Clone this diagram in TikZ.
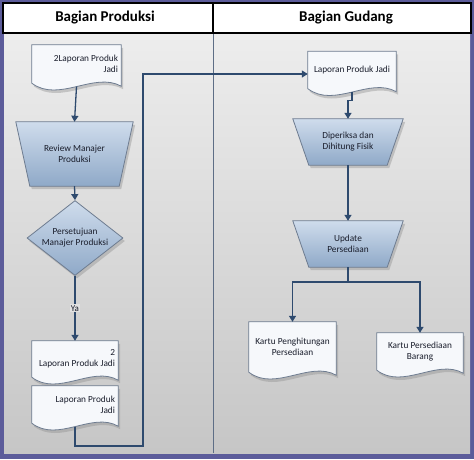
\documentclass[tikz,border=0pt]{standalone}
\usepackage{fontspec}
\setmainfont{Carlito}
\usetikzlibrary{calc,arrows.meta,shapes.geometric,shadows}
\pgfdeclarelayer{bg}
\pgfdeclarelayer{shp}
\pgfsetlayers{bg,shp,main}
\definecolor{framec}{HTML}{5C5C9A}
\definecolor{flowc}{HTML}{2E4A6E}
\definecolor{edgec}{HTML}{6E7C90}
\definecolor{docfill}{HTML}{F6F8FB}
\definecolor{trtop}{HTML}{CFDCEC}
\definecolor{trbot}{HTML}{8FA9C8}
\definecolor{lanec}{HTML}{5E6E86}
\definecolor{txt}{HTML}{1A1E2C}
\definecolor{bgtop}{HTML}{EDEDED}
\definecolor{bgbot}{HTML}{C6C6C6}
\definecolor{yafill}{HTML}{E2E2E2}
\tikzset{
  box/.style={draw=none, inner xsep=3pt, inner ysep=2pt, text=txt,
    font=\fontsize{9.3}{11}\selectfont},
  docn/.style={box, align=flush right},
  docc/.style={box, align=center},
  trap/.style={box, align=center},
  decision/.style={diamond, aspect=1.28, minimum width=96pt, minimum height=75pt,
    inner sep=0pt, draw=edgec, line width=0.8pt, top color=trtop, bottom color=trbot,
    text=txt, align=center, font=\fontsize{9.3}{11}\selectfont,
    drop shadow={shadow xshift=2pt, shadow yshift=-3pt, opacity=.35}},
  docp/.style={insert path={(#1.north west) -- (#1.north east) -- ($(#1.south east)+(0,3)$)
    .. controls ($(#1.south west)!0.7!(#1.south east)+(0,-12)$) and ($(#1.south west)!0.3!(#1.south east)+(0,20)$)
    .. (#1.south west) -- cycle}},
  trapp/.style 2 args={insert path={(#1.north west) -- (#1.north east) -- ($(#1.south east)+(-#2,0)$)
    -- ($(#1.south west)+(#2,0)$) -- cycle}},
  shadowfill/.style={fill=black!45, opacity=.4, transform canvas={shift={(2pt,-3pt)}}},
  docdraw/.style={draw=edgec, fill=docfill, line width=0.8pt},
  trapdraw/.style={draw=edgec, line width=0.8pt, top color=trtop, bottom color=trbot},
  conn/.style={draw=flowc, line width=1.3pt},
  flow/.style={conn, -{Triangle[length=6pt,width=7pt]}},
  head/.style={font=\fontsize{15}{18}\selectfont\bfseries, text=black},
  ya/.style={fill=yafill, inner sep=1pt, text=txt, font=\fontsize{9}{10}\selectfont}
}
\newcommand\docshape[1]{%
  \begin{pgfonlayer}{shp}
    \path[shadowfill, docp=#1];
    \path[docdraw, docp=#1];
  \end{pgfonlayer}}
\newcommand\trapshape[2]{%
  \begin{pgfonlayer}{shp}
    \path[shadowfill, trapp={#1}{#2}];
    \path[trapdraw, trapp={#1}{#2}];
  \end{pgfonlayer}}
\begin{document}
\begin{tikzpicture}[x=1pt,y=-1pt]
\useasboundingbox (0,0) rectangle (474,459);
\begin{pgfonlayer}{bg}
  \fill[framec] (0,0) rectangle (474,459);
  \shade[top color=bgtop, bottom color=bgbot] (4,34) rectangle (470,453);
  \draw[black, line width=2pt, fill=white] (3,3) rectangle (471,33);
  \draw[black, line width=2pt] (213,3) -- (213,33);
  \draw[lanec, line width=1pt] (213,34) -- (213,453);
\end{pgfonlayer}

\node[head] (hp) at (105,18) {Bagian Produksi};
\node[head] (hg) at (346,18) {Bagian Gudang};

% left lane
\node[docn, minimum width=89pt, minimum height=38pt, text width=83pt] (d1) at (76.5,64) {2Laporan Produk\\Jadi};
\docshape{d1}
\node[trap, minimum width=117pt, minimum height=64pt] (r) at (74.5,154) {Review Manajer\\Produksi};
\trapshape{r}{14}
\node[decision] (p) at (75,238) {Persetujuan\\Manajer Produksi};
\node[docn, minimum width=86pt, minimum height=36pt, text width=80pt] (d2) at (75,359) {2\\Laporan Produk Jadi};
\docshape{d2}
\node[docn, minimum width=86pt, minimum height=37pt, text width=80pt] (d3) at (75,404.5) {Laporan Produk\\Jadi};
\docshape{d3}

% right lane
\node[docc, minimum width=88pt, minimum height=37pt] (d4) at (352,70) {Laporan Produk Jadi};
\docshape{d4}
\node[trap, minimum width=110pt, minimum height=46pt] (t2) at (348,142) {Diperiksa dan\\Dihitung Fisik};
\trapshape{t2}{16}
\node[trap, minimum width=110pt, minimum height=46pt] (t3) at (348,244) {Update\\Persediaan};
\trapshape{t3}{16}
\node[docc, minimum width=87pt, minimum height=50pt] (d5) at (292.5,347) {Kartu Penghitungan\\Persediaan};
\docshape{d5}
\node[docc, minimum width=86pt, minimum height=37pt] (d6) at (420,351.5) {Kartu Persediaan\\Barang};
\docshape{d6}

\coordinate (j1) at (143,446);
\coordinate (j2) at (143,74);
\coordinate (b) at (348,282);

% connectors
\draw[flow] ($(d1.south)+(0,3.5)$) -- (r.north);
\draw[flow] (r.south) -- (p.north);
\draw[flow] (p.south) -- node[ya] {Ya} (d2.north);
\draw[flow] ($(d3.south)+(0,3.5)$) |- (j1) -- (j2) -- (d4.west |- j2);
\draw[flow] ($(d4.south)+(0,3.5)$) -- ++(0,8) -| (t2.north);
\draw[flow] (t2.south) -- (t3.north);
\draw[conn] (t3.south) -- (b);
\draw[flow] (b) -| (d5.north);
\draw[flow] (b) -| (d6.north);
\end{tikzpicture}
\end{document}
